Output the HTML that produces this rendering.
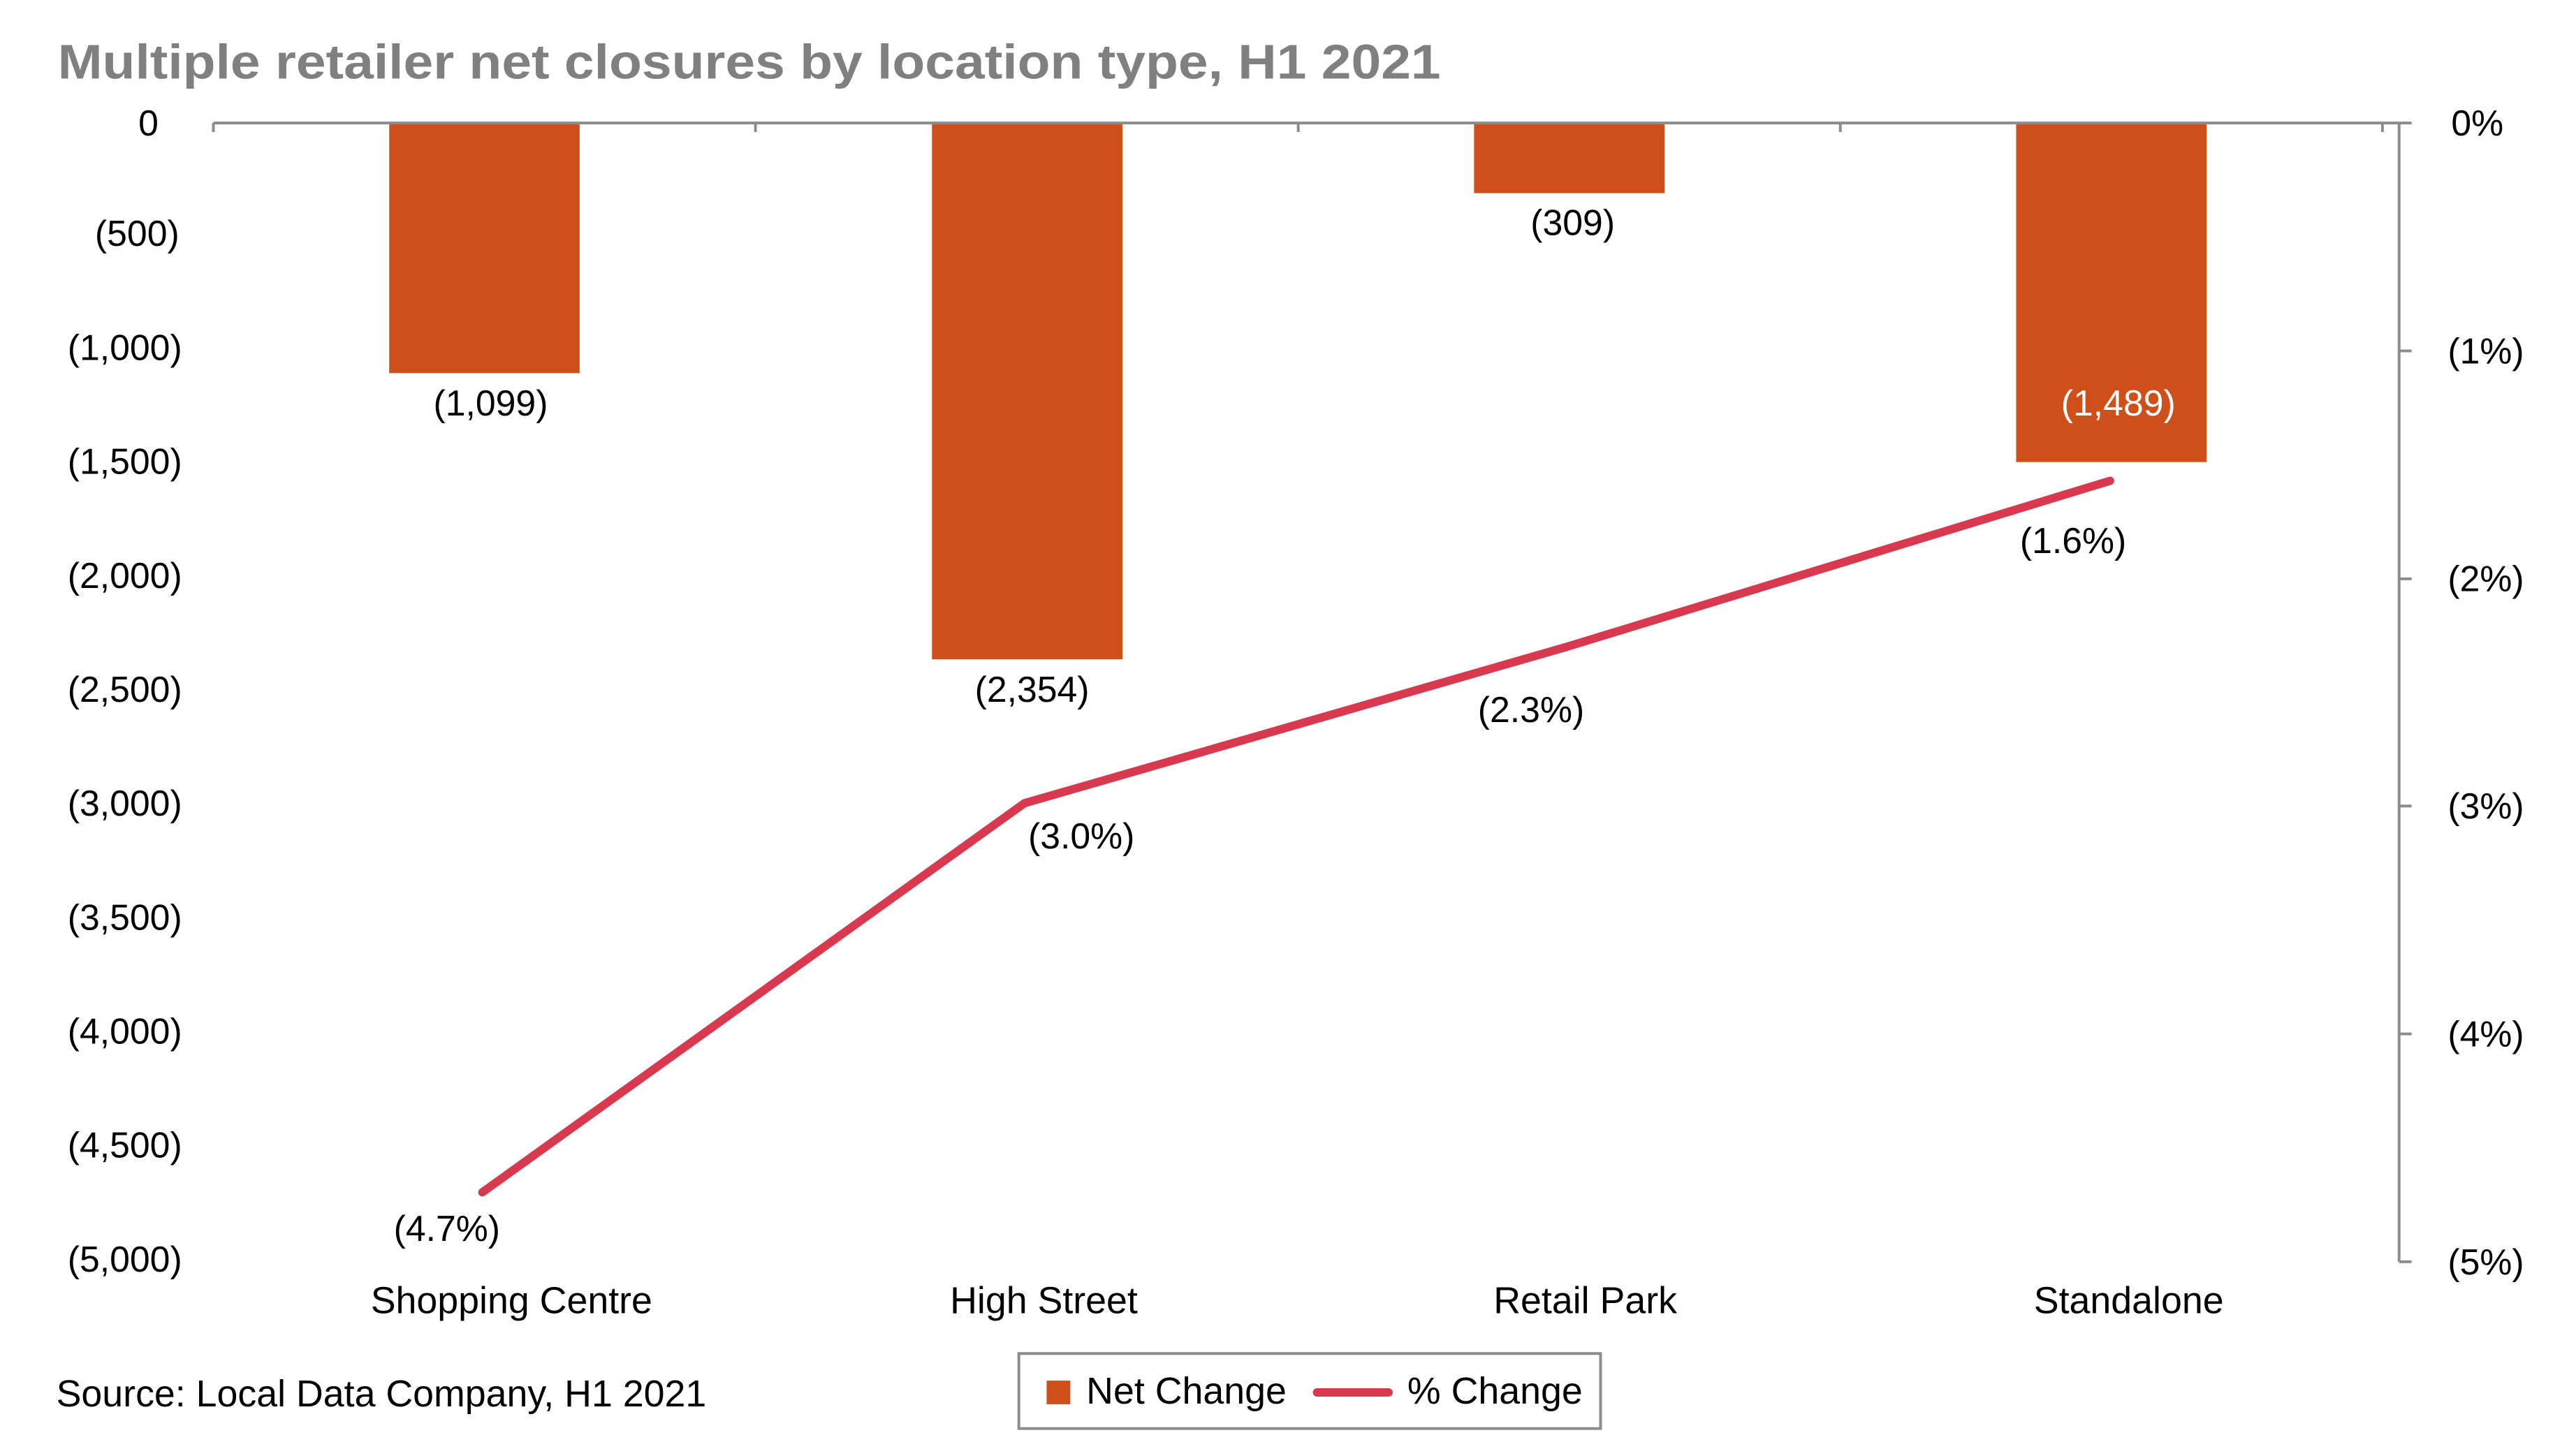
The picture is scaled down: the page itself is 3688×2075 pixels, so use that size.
<!DOCTYPE html>
<html><head><meta charset="utf-8"><style>
html,body{margin:0;padding:0;background:#fff;}
svg{display:block;}
text{font-family:"Liberation Sans",Arial,sans-serif;}
</style></head><body>
<svg width="3688" height="2075" viewBox="0 0 3688 2075" xmlns="http://www.w3.org/2000/svg">
<rect width="3688" height="2075" fill="#fff"/>
<g transform="scale(0.995)">
<text x="83" y="113" font-size="70" font-weight="bold" fill="#808080" textLength="1990" lengthAdjust="spacingAndGlyphs">Multiple retailer net closures by location type, H1 2021</text>

<g fill="#cf4f1a">
<rect x="560" y="177" width="274" height="360"/>
<rect x="1341" y="177" width="274" height="772"/>
<rect x="2121" y="177" width="274" height="101"/>
<rect x="2901" y="177" width="274" height="488"/>
</g>

<g stroke="#8c8c8c" stroke-width="4" fill="none">
<line x1="307" y1="177" x2="3452" y2="177"/>
<line x1="307" y1="177" x2="307" y2="190"/>
<line x1="1087" y1="177" x2="1087" y2="190"/>
<line x1="1868" y1="177" x2="1868" y2="190"/>
<line x1="2648" y1="177" x2="2648" y2="190"/>
<line x1="3428" y1="177" x2="3428" y2="190"/>
<line x1="3452" y1="177" x2="3452" y2="1816"/>
<line x1="3452" y1="177" x2="3470" y2="177"/>
<line x1="3452" y1="505" x2="3470" y2="505"/>
<line x1="3452" y1="833" x2="3470" y2="833"/>
<line x1="3452" y1="1160" x2="3470" y2="1160"/>
<line x1="3452" y1="1488" x2="3470" y2="1488"/>
<line x1="3452" y1="1816" x2="3470" y2="1816"/>
</g>

<g font-size="52" fill="#000" text-anchor="end">
<text x="228" y="195">0</text>
<text x="258" y="354">(500)</text>
<text x="262" y="518">(1,000)</text>
<text x="262" y="682">(1,500)</text>
<text x="262" y="846">(2,000)</text>
<text x="262" y="1010">(2,500)</text>
<text x="262" y="1174">(3,000)</text>
<text x="262" y="1338">(3,500)</text>
<text x="262" y="1502">(4,000)</text>
<text x="262" y="1666">(4,500)</text>
<text x="262" y="1830">(5,000)</text>
</g>
<g font-size="52" fill="#000">
<text x="3527" y="195">0%</text>
<text x="3522" y="523">(1%)</text>
<text x="3522" y="851">(2%)</text>
<text x="3522" y="1178">(3%)</text>
<text x="3522" y="1506">(4%)</text>
<text x="3522" y="1834">(5%)</text>
</g>

<polyline points="694,1716 1474,1156 2254,931 3036,692" fill="none" stroke="#d9394e" stroke-width="12" stroke-linecap="round" stroke-linejoin="round"/>

<g font-size="52" text-anchor="middle" fill="#000">
<text x="706" y="598">(1,099)</text>
<text x="1485" y="1010">(2,354)</text>
<text x="2263" y="338">(309)</text>
<text x="3048" y="598" fill="#fff">(1,489)</text>
<text x="643" y="1786">(4.7%)</text>
<text x="1556" y="1221">(3.0%)</text>
<text x="2203" y="1039">(2.3%)</text>
<text x="2983" y="796">(1.6%)</text>
</g>

<g font-size="54" text-anchor="middle" fill="#000">
<text x="736" y="1890">Shopping Centre</text>
<text x="1502" y="1890">High Street</text>
<text x="2281" y="1890">Retail Park</text>
<text x="3063" y="1890">Standalone</text>
</g>

<text x="81" y="2024" font-size="54" fill="#000">Source: Local Data Company, H1 2021</text>

<rect x="1466" y="1948" width="837" height="108" fill="#fff" stroke="#8c8c8c" stroke-width="4"/>
<rect x="1506" y="1987" width="34" height="34" fill="#cf4f1a"/>
<text x="1563" y="2020" font-size="54" fill="#000">Net Change</text>
<line x1="1895" y1="2004" x2="1998" y2="2004" stroke="#d9394e" stroke-width="12" stroke-linecap="round"/>
<text x="2025" y="2020" font-size="54" fill="#000">% Change</text>
</g>
</svg>
</body></html>
